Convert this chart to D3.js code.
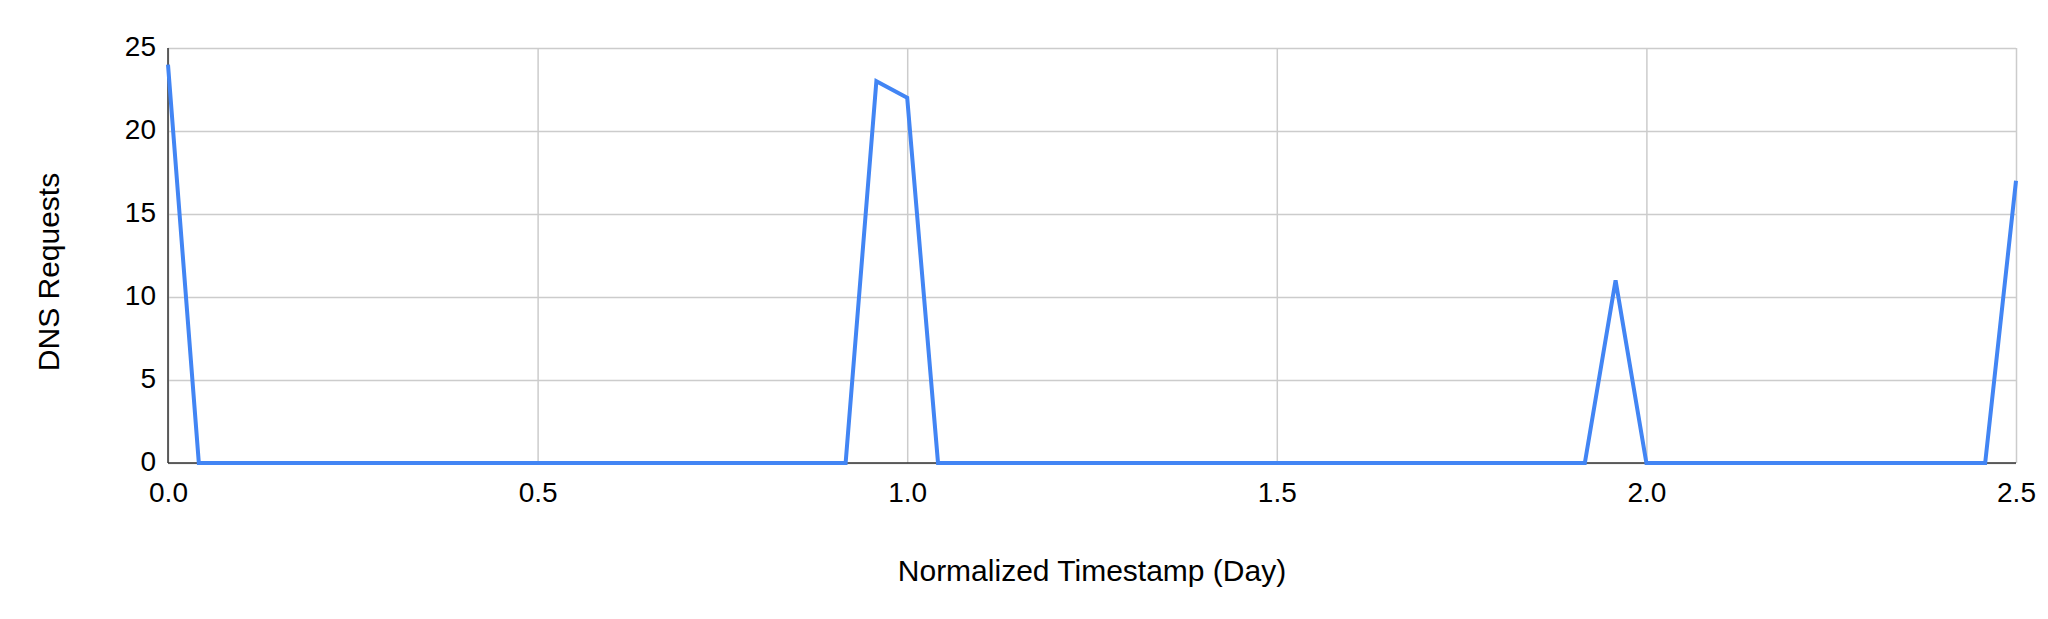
<!DOCTYPE html>
<html>
<head>
<meta charset="utf-8">
<script src="https://cdn.jsdelivr.net/npm/d3@7"></script>
<style>
  body { margin: 0; background: #fff; }
  svg text { font-family: "Liberation Sans", Arial, sans-serif; fill: #000; }
</style>
</head>
<body>
<script>
// data (hourly samples, only the corners of the line)
const timestamps = [0, 0.0417, 0.9167, 0.9583, 1.0, 1.0417, 1.9167, 1.9583, 2.0, 2.4583, 2.5];
const requests = [24, 0, 0, 23, 22, 0, 0, 11, 0, 0, 17];

const xTicks = [0, 0.5, 1.0, 1.5, 2.0, 2.5];
const yTicks = [0, 5, 10, 15, 20, 25];

const xTitle = "Normalized Timestamp (Day)";
const yTitle = "DNS Requests";

const width = 2048;
const height = 619;
const margin = { top: 48, right: 32, bottom: 156, left: 168 };
const innerW = width - margin.left - margin.right;
const innerH = height - margin.top - margin.bottom;

const data = timestamps.map((t, i) => ({ t, v: requests[i] }));

const x = d3.scaleLinear().domain([0, 2.5]).range([0, innerW]);
const y = d3.scaleLinear().domain([0, 25]).range([innerH, 0]);

const svg = d3
  .select("body")
  .append("svg")
  .attr("width", width)
  .attr("height", height);

const g = svg
  .append("g")
  .attr("transform", `translate(${margin.left},${margin.top})`);

// gridlines
const yGrid = g
  .append("g")
  .call(d3.axisLeft(y).tickValues(yTicks).tickSize(-innerW).tickFormat(""));
const xGrid = g
  .append("g")
  .attr("transform", `translate(0,${innerH})`)
  .call(d3.axisBottom(x).tickValues(xTicks).tickSize(-innerH).tickFormat(""));
[xGrid, yGrid].forEach((sel) => {
  sel.select(".domain").remove();
  sel.selectAll("line").attr("stroke", "#cccccc").attr("stroke-width", 1.5);
});

// tick labels
const yAxis = g
  .append("g")
  .call(d3.axisLeft(y).tickValues(yTicks).tickSize(0).tickPadding(12));
yAxis.select(".domain").remove();
yAxis
  .selectAll("text")
  .attr("font-size", 28)
  .attr("font-family", '"Liberation Sans", Arial, sans-serif')
  .attr("dy", "0.28em");

const xAxis = g
  .append("g")
  .attr("transform", `translate(0,${innerH})`)
  .call(
    d3
      .axisBottom(x)
      .tickValues(xTicks)
      .tickSize(0)
      .tickPadding(19)
      .tickFormat(d3.format(".1f"))
  );
xAxis.select(".domain").remove();
xAxis
  .selectAll("text")
  .attr("font-size", 28)
  .attr("font-family", '"Liberation Sans", Arial, sans-serif');

// axis lines
g.append("line")
  .attr("x1", 0)
  .attr("x2", 0)
  .attr("y1", 0)
  .attr("y2", innerH)
  .attr("stroke", "#333333")
  .attr("stroke-width", 1.5);
g.append("line")
  .attr("x1", 0)
  .attr("x2", innerW)
  .attr("y1", innerH)
  .attr("y2", innerH)
  .attr("stroke", "#333333")
  .attr("stroke-width", 1.5);

// the series
const line = d3
  .line()
  .x((d) => x(d.t))
  .y((d) => y(d.v));

g.append("path")
  .datum(data)
  .attr("fill", "none")
  .attr("stroke", "#4285f4")
  .attr("stroke-width", 4)
  .attr("stroke-linejoin", "miter")
  .attr("d", line);

// axis titles
svg
  .append("text")
  .attr("x", margin.left + innerW / 2)
  .attr("y", 581)
  .attr("text-anchor", "middle")
  .attr("font-size", 30)
  .text(xTitle);

svg
  .append("text")
  .attr("transform", "translate(59,272) rotate(-90)")
  .attr("text-anchor", "middle")
  .attr("font-size", 30)
  .text(yTitle);
</script>
</body>
</html>
